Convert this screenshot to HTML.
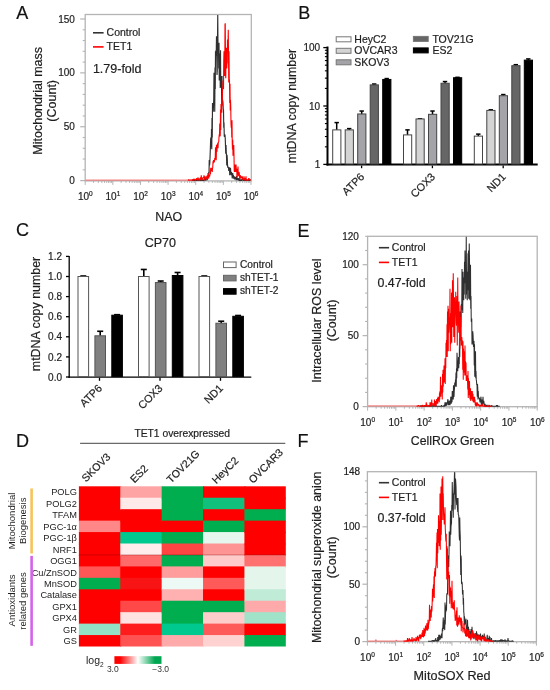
<!DOCTYPE html>
<html><head><meta charset="utf-8"><title>Figure</title><style>
html,body{margin:0;padding:0;background:#fff;width:550px;height:690px;overflow:hidden}
svg{display:block;font-family:"Liberation Sans",sans-serif;filter:blur(0.35px)}
text{stroke:#1e1e1e;stroke-width:0.2px}
text.lt{stroke:none}
</style></head><body>
<svg width="550" height="690" viewBox="0 0 550 690">
<text x="16.30" y="19.30" font-size="18" text-anchor="start" fill="#111" >A</text>
<text x="298.20" y="19.10" font-size="18" text-anchor="start" fill="#111" >B</text>
<text x="15.90" y="236.30" font-size="18" text-anchor="start" fill="#111" >C</text>
<text x="15.90" y="447.10" font-size="18" text-anchor="start" fill="#111" >D</text>
<text x="297.60" y="236.60" font-size="18" text-anchor="start" fill="#111" >E</text>
<text x="297.60" y="446.70" font-size="18" text-anchor="start" fill="#111" >F</text>
<rect x="85.2" y="14.5" width="166.10000000000002" height="166.4" fill="none" stroke="#b4b4b4" stroke-width="1.3"/>
<line x1="80.20" y1="180.60" x2="85.20" y2="180.60" stroke="#b4b4b4" stroke-width="1.2" />
<line x1="82.70" y1="169.83" x2="85.20" y2="169.83" stroke="#b4b4b4" stroke-width="1.1" />
<line x1="82.70" y1="159.05" x2="85.20" y2="159.05" stroke="#b4b4b4" stroke-width="1.1" />
<line x1="82.70" y1="148.28" x2="85.20" y2="148.28" stroke="#b4b4b4" stroke-width="1.1" />
<line x1="82.70" y1="137.51" x2="85.20" y2="137.51" stroke="#b4b4b4" stroke-width="1.1" />
<line x1="80.20" y1="126.73" x2="85.20" y2="126.73" stroke="#b4b4b4" stroke-width="1.2" />
<line x1="82.70" y1="115.96" x2="85.20" y2="115.96" stroke="#b4b4b4" stroke-width="1.1" />
<line x1="82.70" y1="105.19" x2="85.20" y2="105.19" stroke="#b4b4b4" stroke-width="1.1" />
<line x1="82.70" y1="94.42" x2="85.20" y2="94.42" stroke="#b4b4b4" stroke-width="1.1" />
<line x1="82.70" y1="83.64" x2="85.20" y2="83.64" stroke="#b4b4b4" stroke-width="1.1" />
<line x1="80.20" y1="72.87" x2="85.20" y2="72.87" stroke="#b4b4b4" stroke-width="1.2" />
<line x1="82.70" y1="62.10" x2="85.20" y2="62.10" stroke="#b4b4b4" stroke-width="1.1" />
<line x1="82.70" y1="51.32" x2="85.20" y2="51.32" stroke="#b4b4b4" stroke-width="1.1" />
<line x1="82.70" y1="40.55" x2="85.20" y2="40.55" stroke="#b4b4b4" stroke-width="1.1" />
<line x1="82.70" y1="29.78" x2="85.20" y2="29.78" stroke="#b4b4b4" stroke-width="1.1" />
<line x1="80.20" y1="19.00" x2="85.20" y2="19.00" stroke="#b4b4b4" stroke-width="1.2" />
<text x="74.90" y="184.20" font-size="10" text-anchor="end" fill="#1e1e1e" >0</text>
<text x="74.90" y="130.34" font-size="10" text-anchor="end" fill="#1e1e1e" >50</text>
<text x="74.90" y="76.47" font-size="10" text-anchor="end" fill="#1e1e1e" >100</text>
<text x="74.90" y="22.60" font-size="10" text-anchor="end" fill="#1e1e1e" >150</text>
<line x1="85.20" y1="180.90" x2="85.20" y2="184.90" stroke="#b4b4b4" stroke-width="1" />
<line x1="93.52" y1="180.90" x2="93.52" y2="182.90" stroke="#b4b4b4" stroke-width="1" />
<line x1="98.38" y1="180.90" x2="98.38" y2="182.90" stroke="#b4b4b4" stroke-width="1" />
<line x1="101.83" y1="180.90" x2="101.83" y2="182.90" stroke="#b4b4b4" stroke-width="1" />
<line x1="104.51" y1="180.90" x2="104.51" y2="182.90" stroke="#b4b4b4" stroke-width="1" />
<line x1="106.70" y1="180.90" x2="106.70" y2="182.90" stroke="#b4b4b4" stroke-width="1" />
<line x1="108.55" y1="180.90" x2="108.55" y2="182.90" stroke="#b4b4b4" stroke-width="1" />
<line x1="110.15" y1="180.90" x2="110.15" y2="182.90" stroke="#b4b4b4" stroke-width="1" />
<line x1="111.57" y1="180.90" x2="111.57" y2="182.90" stroke="#b4b4b4" stroke-width="1" />
<text x="77.90" y="200.10" font-size="10" fill="#1e1e1e">10<tspan font-size="6.5" dy="-4.2">0</tspan></text>
<line x1="112.83" y1="180.90" x2="112.83" y2="184.90" stroke="#b4b4b4" stroke-width="1" />
<line x1="121.15" y1="180.90" x2="121.15" y2="182.90" stroke="#b4b4b4" stroke-width="1" />
<line x1="126.01" y1="180.90" x2="126.01" y2="182.90" stroke="#b4b4b4" stroke-width="1" />
<line x1="129.46" y1="180.90" x2="129.46" y2="182.90" stroke="#b4b4b4" stroke-width="1" />
<line x1="132.14" y1="180.90" x2="132.14" y2="182.90" stroke="#b4b4b4" stroke-width="1" />
<line x1="134.33" y1="180.90" x2="134.33" y2="182.90" stroke="#b4b4b4" stroke-width="1" />
<line x1="136.18" y1="180.90" x2="136.18" y2="182.90" stroke="#b4b4b4" stroke-width="1" />
<line x1="137.78" y1="180.90" x2="137.78" y2="182.90" stroke="#b4b4b4" stroke-width="1" />
<line x1="139.20" y1="180.90" x2="139.20" y2="182.90" stroke="#b4b4b4" stroke-width="1" />
<text x="105.53" y="200.10" font-size="10" fill="#1e1e1e">10<tspan font-size="6.5" dy="-4.2">1</tspan></text>
<line x1="140.46" y1="180.90" x2="140.46" y2="184.90" stroke="#b4b4b4" stroke-width="1" />
<line x1="148.78" y1="180.90" x2="148.78" y2="182.90" stroke="#b4b4b4" stroke-width="1" />
<line x1="153.64" y1="180.90" x2="153.64" y2="182.90" stroke="#b4b4b4" stroke-width="1" />
<line x1="157.09" y1="180.90" x2="157.09" y2="182.90" stroke="#b4b4b4" stroke-width="1" />
<line x1="159.77" y1="180.90" x2="159.77" y2="182.90" stroke="#b4b4b4" stroke-width="1" />
<line x1="161.96" y1="180.90" x2="161.96" y2="182.90" stroke="#b4b4b4" stroke-width="1" />
<line x1="163.81" y1="180.90" x2="163.81" y2="182.90" stroke="#b4b4b4" stroke-width="1" />
<line x1="165.41" y1="180.90" x2="165.41" y2="182.90" stroke="#b4b4b4" stroke-width="1" />
<line x1="166.83" y1="180.90" x2="166.83" y2="182.90" stroke="#b4b4b4" stroke-width="1" />
<text x="133.16" y="200.10" font-size="10" fill="#1e1e1e">10<tspan font-size="6.5" dy="-4.2">2</tspan></text>
<line x1="168.09" y1="180.90" x2="168.09" y2="184.90" stroke="#b4b4b4" stroke-width="1" />
<line x1="176.41" y1="180.90" x2="176.41" y2="182.90" stroke="#b4b4b4" stroke-width="1" />
<line x1="181.27" y1="180.90" x2="181.27" y2="182.90" stroke="#b4b4b4" stroke-width="1" />
<line x1="184.72" y1="180.90" x2="184.72" y2="182.90" stroke="#b4b4b4" stroke-width="1" />
<line x1="187.40" y1="180.90" x2="187.40" y2="182.90" stroke="#b4b4b4" stroke-width="1" />
<line x1="189.59" y1="180.90" x2="189.59" y2="182.90" stroke="#b4b4b4" stroke-width="1" />
<line x1="191.44" y1="180.90" x2="191.44" y2="182.90" stroke="#b4b4b4" stroke-width="1" />
<line x1="193.04" y1="180.90" x2="193.04" y2="182.90" stroke="#b4b4b4" stroke-width="1" />
<line x1="194.46" y1="180.90" x2="194.46" y2="182.90" stroke="#b4b4b4" stroke-width="1" />
<text x="160.79" y="200.10" font-size="10" fill="#1e1e1e">10<tspan font-size="6.5" dy="-4.2">3</tspan></text>
<line x1="195.72" y1="180.90" x2="195.72" y2="184.90" stroke="#b4b4b4" stroke-width="1" />
<line x1="204.04" y1="180.90" x2="204.04" y2="182.90" stroke="#b4b4b4" stroke-width="1" />
<line x1="208.90" y1="180.90" x2="208.90" y2="182.90" stroke="#b4b4b4" stroke-width="1" />
<line x1="212.35" y1="180.90" x2="212.35" y2="182.90" stroke="#b4b4b4" stroke-width="1" />
<line x1="215.03" y1="180.90" x2="215.03" y2="182.90" stroke="#b4b4b4" stroke-width="1" />
<line x1="217.22" y1="180.90" x2="217.22" y2="182.90" stroke="#b4b4b4" stroke-width="1" />
<line x1="219.07" y1="180.90" x2="219.07" y2="182.90" stroke="#b4b4b4" stroke-width="1" />
<line x1="220.67" y1="180.90" x2="220.67" y2="182.90" stroke="#b4b4b4" stroke-width="1" />
<line x1="222.09" y1="180.90" x2="222.09" y2="182.90" stroke="#b4b4b4" stroke-width="1" />
<text x="188.42" y="200.10" font-size="10" fill="#1e1e1e">10<tspan font-size="6.5" dy="-4.2">4</tspan></text>
<line x1="223.35" y1="180.90" x2="223.35" y2="184.90" stroke="#b4b4b4" stroke-width="1" />
<line x1="231.67" y1="180.90" x2="231.67" y2="182.90" stroke="#b4b4b4" stroke-width="1" />
<line x1="236.53" y1="180.90" x2="236.53" y2="182.90" stroke="#b4b4b4" stroke-width="1" />
<line x1="239.98" y1="180.90" x2="239.98" y2="182.90" stroke="#b4b4b4" stroke-width="1" />
<line x1="242.66" y1="180.90" x2="242.66" y2="182.90" stroke="#b4b4b4" stroke-width="1" />
<line x1="244.85" y1="180.90" x2="244.85" y2="182.90" stroke="#b4b4b4" stroke-width="1" />
<line x1="246.70" y1="180.90" x2="246.70" y2="182.90" stroke="#b4b4b4" stroke-width="1" />
<line x1="248.30" y1="180.90" x2="248.30" y2="182.90" stroke="#b4b4b4" stroke-width="1" />
<line x1="249.72" y1="180.90" x2="249.72" y2="182.90" stroke="#b4b4b4" stroke-width="1" />
<text x="216.05" y="200.10" font-size="10" fill="#1e1e1e">10<tspan font-size="6.5" dy="-4.2">5</tspan></text>
<line x1="250.98" y1="180.90" x2="250.98" y2="184.90" stroke="#b4b4b4" stroke-width="1" />
<text x="243.68" y="200.10" font-size="10" fill="#1e1e1e">10<tspan font-size="6.5" dy="-4.2">6</tspan></text>
<polyline points="192.00,180.30 192.25,180.30 192.50,180.30 192.75,180.30 193.00,179.52 193.25,180.30 193.50,180.30 193.75,180.30 194.00,180.30 194.25,180.30 194.50,180.30 194.75,180.30 195.00,180.30 195.25,180.30 195.50,180.30 195.75,180.30 196.00,180.30 196.25,180.30 196.50,180.30 196.75,180.30 197.00,180.30 197.25,180.30 197.50,180.30 197.75,180.30 198.00,180.30 198.25,180.30 198.50,180.30 198.75,180.30 199.00,180.30 199.25,180.30 199.50,179.52 199.75,180.30 200.00,179.52 200.25,180.30 200.50,180.30 200.75,179.52 201.00,180.30 201.25,180.30 201.50,180.30 201.75,179.52 202.00,180.30 202.25,180.30 202.50,180.30 202.75,180.30 203.00,179.52 203.25,180.30 203.50,180.30 203.75,179.52 204.00,180.30 204.25,180.30 204.50,179.52 204.75,178.45 205.00,178.45 205.25,179.52 205.50,178.45 205.75,180.30 206.00,180.30 206.25,179.52 206.50,178.45 206.75,178.45 207.00,177.37 207.25,178.45 207.50,177.37 207.75,178.45 208.00,176.29 208.25,177.37 208.50,176.29 208.75,171.98 209.00,173.06 209.25,160.13 209.50,165.52 209.75,163.36 210.00,157.98 210.25,151.51 210.50,143.97 210.75,137.51 211.00,145.05 211.25,147.20 211.50,128.89 211.75,149.36 212.00,118.12 212.25,137.51 212.50,103.03 212.75,109.50 213.00,104.11 213.25,111.65 213.50,105.19 213.75,98.73 214.00,72.87 214.25,100.88 214.50,89.03 214.75,111.65 215.00,67.48 215.25,89.03 215.50,51.32 215.75,55.63 216.00,50.25 216.25,52.40 216.50,36.24 216.75,57.79 217.00,75.02 217.25,70.72 217.50,38.40 217.75,15.00 218.00,49.17 218.25,42.71 218.50,49.17 218.75,68.56 219.00,42.71 219.25,80.41 219.50,67.48 219.75,73.95 220.00,53.48 220.25,87.95 220.50,50.25 220.75,86.87 221.00,76.10 221.25,81.49 221.50,83.64 221.75,105.19 222.00,76.10 222.25,97.65 222.50,99.80 222.75,100.88 223.00,103.03 223.25,109.50 223.50,109.50 223.75,127.81 224.00,122.43 224.25,136.43 224.50,136.43 224.75,134.28 225.00,135.35 225.25,138.59 225.50,146.13 225.75,153.67 226.00,145.05 226.25,151.51 226.50,155.82 226.75,165.52 227.00,154.74 227.25,157.98 227.50,164.44 227.75,167.67 228.00,166.60 228.25,167.67 228.50,167.67 228.75,170.90 229.00,167.67 229.25,167.67 229.50,168.75 229.75,175.21 230.00,174.14 230.25,173.06 230.50,167.67 230.75,171.98 231.00,173.06 231.25,175.21 231.50,171.98 231.75,174.14 232.00,175.21 232.25,178.45 232.50,175.21 232.75,173.06 233.00,177.37 233.25,175.21 233.50,176.29 233.75,178.45 234.00,178.45 234.25,176.29 234.50,179.52 234.75,177.37 235.00,177.37 235.25,177.37 235.50,177.37 235.75,178.45 236.00,179.52 236.25,180.30 236.50,176.29 236.75,176.29 237.00,179.52 237.25,179.52 237.50,178.45 237.75,178.45 238.00,180.30 238.25,179.52 238.50,178.45 238.75,178.45 239.00,180.30 239.25,180.30 239.50,178.45 239.75,180.30 240.00,180.30 240.25,180.30 240.50,179.52 240.75,180.30 241.00,180.30 241.25,180.30 241.50,179.52 241.75,180.30 242.00,180.30 242.25,178.45 242.50,179.52 242.75,179.52 243.00,179.52 243.25,180.30 243.50,180.30 243.75,180.30 244.00,180.30 244.25,180.30 244.50,180.30 244.75,180.30 245.00,180.30 245.25,180.30 245.50,180.30 245.75,180.30 246.00,180.30 246.25,180.30 246.50,180.30 246.75,180.30 247.00,180.30 247.25,180.30 247.50,180.30 247.75,180.30 248.00,180.30 248.25,180.30 248.50,179.52 248.75,180.30 249.00,180.30 249.25,180.30 249.50,180.30 249.75,180.30 250.00,179.52 250.25,180.30 250.50,180.30" fill="none" stroke="#303030" stroke-width="1.15" stroke-linejoin="bevel"/>
<line x1="85.70" y1="180.10" x2="188.50" y2="180.10" stroke="#f26a6a" stroke-width="1.0" />
<polyline points="188.00,180.30 188.25,180.30 188.50,179.52 188.75,180.30 189.00,179.52 189.25,180.30 189.50,180.30 189.75,180.30 190.00,180.30 190.25,180.30 190.50,180.30 190.75,180.30 191.00,179.52 191.25,180.30 191.50,180.30 191.75,180.30 192.00,180.30 192.25,180.30 192.50,179.52 192.75,180.30 193.00,180.30 193.25,180.30 193.50,179.52 193.75,180.30 194.00,178.45 194.25,180.30 194.50,179.52 194.75,179.52 195.00,179.52 195.25,180.30 195.50,180.30 195.75,180.30 196.00,179.52 196.25,179.52 196.50,178.45 196.75,178.45 197.00,179.52 197.25,179.52 197.50,180.30 197.75,180.30 198.00,177.37 198.25,179.52 198.50,179.52 198.75,180.30 199.00,178.45 199.25,179.52 199.50,179.52 199.75,180.30 200.00,178.45 200.25,179.52 200.50,177.37 200.75,178.45 201.00,179.52 201.25,175.21 201.50,179.52 201.75,180.30 202.00,179.52 202.25,178.45 202.50,179.52 202.75,177.37 203.00,178.45 203.25,177.37 203.50,178.45 203.75,177.37 204.00,175.21 204.25,178.45 204.50,176.29 204.75,180.30 205.00,179.52 205.25,177.37 205.50,178.45 205.75,178.45 206.00,176.29 206.25,178.45 206.50,177.37 206.75,177.37 207.00,179.52 207.25,175.21 207.50,180.30 207.75,177.37 208.00,173.06 208.25,175.21 208.50,174.14 208.75,178.45 209.00,175.21 209.25,176.29 209.50,176.29 209.75,176.29 210.00,171.98 210.25,169.83 210.50,174.14 210.75,167.67 211.00,170.90 211.25,168.75 211.50,169.83 211.75,170.90 212.00,167.67 212.25,171.98 212.50,167.67 212.75,167.67 213.00,161.21 213.25,163.36 213.50,160.13 213.75,162.29 214.00,160.13 214.25,162.29 214.50,161.21 214.75,157.98 215.00,159.05 215.25,157.98 215.50,147.20 215.75,159.05 216.00,160.13 216.25,159.05 216.50,145.05 216.75,151.51 217.00,151.51 217.25,143.97 217.50,148.28 217.75,142.89 218.00,148.28 218.25,142.89 218.50,141.82 218.75,141.82 219.00,137.51 219.25,134.28 219.50,135.35 219.75,123.50 220.00,136.43 220.25,135.35 220.50,109.50 220.75,129.97 221.00,104.11 221.25,107.34 221.50,111.65 221.75,112.73 222.00,100.88 222.25,106.27 222.50,91.18 222.75,87.95 223.00,80.41 223.25,85.80 223.50,89.03 223.75,61.02 224.00,51.32 224.25,73.95 224.50,68.56 224.75,76.10 225.00,24.39 225.25,23.31 225.50,62.10 225.75,78.26 226.00,48.09 226.25,48.09 226.50,49.17 226.75,68.56 227.00,63.17 227.25,63.17 227.50,39.47 227.75,51.32 228.00,50.25 228.25,29.78 228.50,52.40 228.75,82.57 229.00,51.32 229.25,78.26 229.50,81.49 229.75,103.03 230.00,83.64 230.25,110.58 230.50,99.80 230.75,107.34 231.00,123.50 231.25,127.81 231.50,120.27 231.75,137.51 232.00,120.27 232.25,142.89 232.50,149.36 232.75,139.66 233.00,155.82 233.25,149.36 233.50,152.59 233.75,145.05 234.00,155.82 234.25,170.90 234.50,171.98 234.75,170.90 235.00,167.67 235.25,164.44 235.50,166.60 235.75,171.98 236.00,164.44 236.25,168.75 236.50,170.90 236.75,168.75 237.00,177.37 237.25,176.29 237.50,168.75 237.75,175.21 238.00,166.60 238.25,175.21 238.50,174.14 238.75,176.29 239.00,171.98 239.25,173.06 239.50,176.29 239.75,179.52 240.00,176.29 240.25,175.21 240.50,176.29 240.75,176.29 241.00,178.45 241.25,177.37 241.50,176.29 241.75,177.37 242.00,177.37 242.25,176.29 242.50,177.37 242.75,179.52 243.00,179.52 243.25,179.52 243.50,178.45 243.75,179.52 244.00,176.29 244.25,178.45 244.50,179.52 244.75,180.30 245.00,178.45 245.25,178.45 245.50,180.30 245.75,179.52 246.00,176.29 246.25,180.30 246.50,180.30 246.75,179.52 247.00,179.52 247.25,180.30 247.50,180.30 247.75,180.30 248.00,180.30 248.25,180.30 248.50,178.45 248.75,178.45 249.00,178.45 249.25,180.30 249.50,178.45 249.75,180.30 250.00,179.52 250.25,180.30 250.50,180.30" fill="none" stroke="#ff0000" stroke-width="1.1" stroke-linejoin="bevel"/>
<line x1="93.00" y1="32.80" x2="103.60" y2="32.80" stroke="#333" stroke-width="1.6" />
<text x="106.60" y="35.80" font-size="10.5" text-anchor="start" fill="#1e1e1e" >Control</text>
<line x1="93.00" y1="46.90" x2="103.60" y2="46.90" stroke="#ff0000" stroke-width="1.6" />
<text x="106.60" y="49.90" font-size="10.5" text-anchor="start" fill="#1e1e1e" >TET1</text>
<text x="92.90" y="72.50" font-size="12.5" text-anchor="start" fill="#1e1e1e" >1.79-fold</text>
<text x="168.70" y="221.20" font-size="12.4" text-anchor="middle" fill="#1e1e1e" >NAO</text>
<text transform="translate(42.30,100.80) rotate(-90)" font-size="12.5" text-anchor="middle" fill="#1e1e1e" >Mitochondrial mass</text>
<text transform="translate(56.20,100.80) rotate(-90)" font-size="12.5" text-anchor="middle" fill="#1e1e1e" >(Count)</text>
<line x1="327.50" y1="46.50" x2="327.50" y2="165.60" stroke="#000" stroke-width="2" />
<line x1="326.50" y1="164.60" x2="537.70" y2="164.60" stroke="#000" stroke-width="2" />
<line x1="323.30" y1="164.40" x2="327.50" y2="164.40" stroke="#000" stroke-width="1.3" />
<line x1="324.90" y1="146.82" x2="327.50" y2="146.82" stroke="#000" stroke-width="1.1" />
<line x1="324.90" y1="136.54" x2="327.50" y2="136.54" stroke="#000" stroke-width="1.1" />
<line x1="324.90" y1="129.24" x2="327.50" y2="129.24" stroke="#000" stroke-width="1.1" />
<line x1="324.90" y1="123.58" x2="327.50" y2="123.58" stroke="#000" stroke-width="1.1" />
<line x1="324.90" y1="118.96" x2="327.50" y2="118.96" stroke="#000" stroke-width="1.1" />
<line x1="324.90" y1="115.05" x2="327.50" y2="115.05" stroke="#000" stroke-width="1.1" />
<line x1="324.90" y1="111.66" x2="327.50" y2="111.66" stroke="#000" stroke-width="1.1" />
<line x1="324.90" y1="108.67" x2="327.50" y2="108.67" stroke="#000" stroke-width="1.1" />
<line x1="323.30" y1="106.00" x2="327.50" y2="106.00" stroke="#000" stroke-width="1.3" />
<line x1="324.90" y1="88.42" x2="327.50" y2="88.42" stroke="#000" stroke-width="1.1" />
<line x1="324.90" y1="78.14" x2="327.50" y2="78.14" stroke="#000" stroke-width="1.1" />
<line x1="324.90" y1="70.84" x2="327.50" y2="70.84" stroke="#000" stroke-width="1.1" />
<line x1="324.90" y1="65.18" x2="327.50" y2="65.18" stroke="#000" stroke-width="1.1" />
<line x1="324.90" y1="60.56" x2="327.50" y2="60.56" stroke="#000" stroke-width="1.1" />
<line x1="324.90" y1="56.65" x2="327.50" y2="56.65" stroke="#000" stroke-width="1.1" />
<line x1="324.90" y1="53.26" x2="327.50" y2="53.26" stroke="#000" stroke-width="1.1" />
<line x1="324.90" y1="50.27" x2="327.50" y2="50.27" stroke="#000" stroke-width="1.1" />
<line x1="323.30" y1="47.60" x2="327.50" y2="47.60" stroke="#000" stroke-width="1.3" />
<text x="320.20" y="51.20" font-size="10" text-anchor="end" fill="#1e1e1e" >100</text>
<text x="320.20" y="109.60" font-size="10" text-anchor="end" fill="#1e1e1e" >10</text>
<text x="320.20" y="168.00" font-size="10" text-anchor="end" fill="#1e1e1e" >1</text>
<line x1="336.70" y1="129.88" x2="336.70" y2="122.59" stroke="#000" stroke-width="1.5" />
<line x1="334.50" y1="122.59" x2="338.90" y2="122.59" stroke="#000" stroke-width="1.5" />
<rect x="332.70" y="129.88" width="8.20" height="34.12" fill="#ffffff" stroke="#444" stroke-width="1"/>
<line x1="349.20" y1="129.88" x2="349.20" y2="128.61" stroke="#000" stroke-width="1.5" />
<line x1="347.00" y1="128.61" x2="351.40" y2="128.61" stroke="#000" stroke-width="1.5" />
<rect x="345.20" y="129.88" width="8.20" height="34.12" fill="#d4d4d4" stroke="#444" stroke-width="1"/>
<line x1="361.70" y1="113.98" x2="361.70" y2="111.03" stroke="#000" stroke-width="1.5" />
<line x1="359.50" y1="111.03" x2="363.90" y2="111.03" stroke="#000" stroke-width="1.5" />
<rect x="357.70" y="113.98" width="8.20" height="50.02" fill="#a3a3a8" stroke="#444" stroke-width="1"/>
<line x1="374.20" y1="84.88" x2="374.20" y2="84.01" stroke="#000" stroke-width="1.5" />
<line x1="372.00" y1="84.01" x2="376.40" y2="84.01" stroke="#000" stroke-width="1.5" />
<rect x="370.20" y="84.88" width="8.20" height="79.12" fill="#666666" stroke="#444" stroke-width="1"/>
<line x1="386.70" y1="79.44" x2="386.70" y2="78.56" stroke="#000" stroke-width="1.5" />
<line x1="384.50" y1="78.56" x2="388.90" y2="78.56" stroke="#000" stroke-width="1.5" />
<rect x="382.70" y="79.44" width="8.20" height="84.56" fill="#000000" stroke="#000" stroke-width="1"/>
<line x1="361.60" y1="165.60" x2="361.60" y2="168.20" stroke="#000" stroke-width="1.3" />
<line x1="407.50" y1="134.90" x2="407.50" y2="129.88" stroke="#000" stroke-width="1.5" />
<line x1="405.30" y1="129.88" x2="409.70" y2="129.88" stroke="#000" stroke-width="1.5" />
<rect x="403.50" y="134.90" width="8.20" height="29.10" fill="#ffffff" stroke="#444" stroke-width="1"/>
<line x1="420.00" y1="118.96" x2="420.00" y2="118.75" stroke="#000" stroke-width="1.5" />
<line x1="417.80" y1="118.75" x2="422.20" y2="118.75" stroke="#000" stroke-width="1.5" />
<rect x="416.00" y="118.96" width="8.20" height="45.04" fill="#d4d4d4" stroke="#444" stroke-width="1"/>
<line x1="432.50" y1="114.33" x2="432.50" y2="111.03" stroke="#000" stroke-width="1.5" />
<line x1="430.30" y1="111.03" x2="434.70" y2="111.03" stroke="#000" stroke-width="1.5" />
<rect x="428.50" y="114.33" width="8.20" height="49.67" fill="#a3a3a8" stroke="#444" stroke-width="1"/>
<line x1="445.00" y1="83.27" x2="445.00" y2="81.57" stroke="#000" stroke-width="1.5" />
<line x1="442.80" y1="81.57" x2="447.20" y2="81.57" stroke="#000" stroke-width="1.5" />
<rect x="441.00" y="83.27" width="8.20" height="80.73" fill="#666666" stroke="#444" stroke-width="1"/>
<line x1="457.50" y1="77.72" x2="457.50" y2="77.30" stroke="#000" stroke-width="1.5" />
<line x1="455.30" y1="77.30" x2="459.70" y2="77.30" stroke="#000" stroke-width="1.5" />
<rect x="453.50" y="77.72" width="8.20" height="86.28" fill="#000000" stroke="#000" stroke-width="1"/>
<line x1="432.40" y1="165.60" x2="432.40" y2="168.20" stroke="#000" stroke-width="1.3" />
<line x1="478.30" y1="136.12" x2="478.30" y2="134.12" stroke="#000" stroke-width="1.5" />
<line x1="476.10" y1="134.12" x2="480.50" y2="134.12" stroke="#000" stroke-width="1.5" />
<rect x="474.30" y="136.12" width="8.20" height="27.88" fill="#ffffff" stroke="#444" stroke-width="1"/>
<line x1="490.80" y1="110.42" x2="490.80" y2="109.83" stroke="#000" stroke-width="1.5" />
<line x1="488.60" y1="109.83" x2="493.00" y2="109.83" stroke="#000" stroke-width="1.5" />
<rect x="486.80" y="110.42" width="8.20" height="53.58" fill="#d4d4d4" stroke="#444" stroke-width="1"/>
<line x1="503.30" y1="95.72" x2="503.30" y2="94.56" stroke="#000" stroke-width="1.5" />
<line x1="501.10" y1="94.56" x2="505.50" y2="94.56" stroke="#000" stroke-width="1.5" />
<rect x="499.30" y="95.72" width="8.20" height="68.28" fill="#a3a3a8" stroke="#444" stroke-width="1"/>
<line x1="515.80" y1="65.69" x2="515.80" y2="64.68" stroke="#000" stroke-width="1.5" />
<line x1="513.60" y1="64.68" x2="518.00" y2="64.68" stroke="#000" stroke-width="1.5" />
<rect x="511.80" y="65.69" width="8.20" height="98.31" fill="#666666" stroke="#444" stroke-width="1"/>
<line x1="528.30" y1="60.14" x2="528.30" y2="58.92" stroke="#000" stroke-width="1.5" />
<line x1="526.10" y1="58.92" x2="530.50" y2="58.92" stroke="#000" stroke-width="1.5" />
<rect x="524.30" y="60.14" width="8.20" height="103.86" fill="#000000" stroke="#000" stroke-width="1"/>
<line x1="503.20" y1="165.60" x2="503.20" y2="168.20" stroke="#000" stroke-width="1.3" />
<text transform="translate(365.00,177.40) rotate(-45)" font-size="10.8" text-anchor="end" fill="#1e1e1e" >ATP6</text>
<text transform="translate(435.80,177.40) rotate(-45)" font-size="10.8" text-anchor="end" fill="#1e1e1e" >COX3</text>
<text transform="translate(506.60,177.40) rotate(-45)" font-size="10.8" text-anchor="end" fill="#1e1e1e" >ND1</text>
<rect x="336.20" y="36.80" width="14.80" height="5.00" fill="#ffffff" stroke="#777" stroke-width="1"/>
<text x="354.30" y="42.90" font-size="10.5" text-anchor="start" fill="#1e1e1e" >HeyC2</text>
<rect x="336.20" y="48.30" width="14.80" height="5.00" fill="#d4d4d4" stroke="#777" stroke-width="1"/>
<text x="354.30" y="54.40" font-size="10.5" text-anchor="start" fill="#1e1e1e" >OVCAR3</text>
<rect x="336.20" y="59.80" width="14.80" height="5.00" fill="#a3a3a8" stroke="#777" stroke-width="1"/>
<text x="354.30" y="65.90" font-size="10.5" text-anchor="start" fill="#1e1e1e" >SKOV3</text>
<rect x="413.40" y="36.40" width="14.80" height="5.00" fill="#666666" stroke="#777" stroke-width="1"/>
<text x="432.40" y="42.50" font-size="10.5" text-anchor="start" fill="#1e1e1e" >TOV21G</text>
<rect x="413.40" y="47.90" width="14.80" height="5.00" fill="#000000" stroke="#000" stroke-width="1"/>
<text x="432.40" y="54.00" font-size="10.5" text-anchor="start" fill="#1e1e1e" >ES2</text>
<text transform="translate(295.80,106.00) rotate(-90)" font-size="12.4" text-anchor="middle" fill="#1e1e1e" >mtDNA copy number</text>
<line x1="69.20" y1="256.00" x2="69.20" y2="377.80" stroke="#000" stroke-width="1.3" />
<line x1="68.50" y1="377.20" x2="251.30" y2="377.20" stroke="#000" stroke-width="1.3" />
<line x1="66.00" y1="377.00" x2="69.20" y2="377.00" stroke="#000" stroke-width="1.3" />
<text x="62.00" y="380.60" font-size="10" text-anchor="end" fill="#1e1e1e" >0.0</text>
<line x1="66.00" y1="356.90" x2="69.20" y2="356.90" stroke="#000" stroke-width="1.3" />
<text x="62.00" y="360.50" font-size="10" text-anchor="end" fill="#1e1e1e" >0.2</text>
<line x1="66.00" y1="336.80" x2="69.20" y2="336.80" stroke="#000" stroke-width="1.3" />
<text x="62.00" y="340.40" font-size="10" text-anchor="end" fill="#1e1e1e" >0.4</text>
<line x1="66.00" y1="316.70" x2="69.20" y2="316.70" stroke="#000" stroke-width="1.3" />
<text x="62.00" y="320.30" font-size="10" text-anchor="end" fill="#1e1e1e" >0.6</text>
<line x1="66.00" y1="296.60" x2="69.20" y2="296.60" stroke="#000" stroke-width="1.3" />
<text x="62.00" y="300.20" font-size="10" text-anchor="end" fill="#1e1e1e" >0.8</text>
<line x1="66.00" y1="276.50" x2="69.20" y2="276.50" stroke="#000" stroke-width="1.3" />
<text x="62.00" y="280.10" font-size="10" text-anchor="end" fill="#1e1e1e" >1.0</text>
<line x1="66.00" y1="256.40" x2="69.20" y2="256.40" stroke="#000" stroke-width="1.3" />
<text x="62.00" y="260.00" font-size="10" text-anchor="end" fill="#1e1e1e" >1.2</text>
<line x1="83.30" y1="276.50" x2="83.30" y2="276.00" stroke="#000" stroke-width="1.6" />
<line x1="80.30" y1="276.00" x2="86.30" y2="276.00" stroke="#000" stroke-width="1.6" />
<rect x="78.00" y="276.50" width="10.60" height="100.10" fill="#ffffff" stroke="#555" stroke-width="1"/>
<line x1="100.20" y1="335.80" x2="100.20" y2="331.27" stroke="#000" stroke-width="1.6" />
<line x1="97.20" y1="331.27" x2="103.20" y2="331.27" stroke="#000" stroke-width="1.6" />
<rect x="94.90" y="335.80" width="10.60" height="40.81" fill="#808080" stroke="#555" stroke-width="1"/>
<line x1="117.10" y1="315.19" x2="117.10" y2="314.69" stroke="#000" stroke-width="1.6" />
<line x1="114.10" y1="314.69" x2="120.10" y2="314.69" stroke="#000" stroke-width="1.6" />
<rect x="111.80" y="315.19" width="10.60" height="61.41" fill="#000000" stroke="#000" stroke-width="1"/>
<line x1="99.50" y1="377.80" x2="99.50" y2="380.80" stroke="#000" stroke-width="1.3" />
<line x1="143.80" y1="276.50" x2="143.80" y2="269.46" stroke="#000" stroke-width="1.6" />
<line x1="140.80" y1="269.46" x2="146.80" y2="269.46" stroke="#000" stroke-width="1.6" />
<rect x="138.50" y="276.50" width="10.60" height="100.10" fill="#ffffff" stroke="#555" stroke-width="1"/>
<line x1="160.70" y1="282.53" x2="160.70" y2="281.02" stroke="#000" stroke-width="1.6" />
<line x1="157.70" y1="281.02" x2="163.70" y2="281.02" stroke="#000" stroke-width="1.6" />
<rect x="155.40" y="282.53" width="10.60" height="94.07" fill="#808080" stroke="#555" stroke-width="1"/>
<line x1="177.60" y1="275.50" x2="177.60" y2="272.48" stroke="#000" stroke-width="1.6" />
<line x1="174.60" y1="272.48" x2="180.60" y2="272.48" stroke="#000" stroke-width="1.6" />
<rect x="172.30" y="275.50" width="10.60" height="101.11" fill="#000000" stroke="#000" stroke-width="1"/>
<line x1="160.00" y1="377.80" x2="160.00" y2="380.80" stroke="#000" stroke-width="1.3" />
<line x1="204.30" y1="276.50" x2="204.30" y2="276.00" stroke="#000" stroke-width="1.6" />
<line x1="201.30" y1="276.00" x2="207.30" y2="276.00" stroke="#000" stroke-width="1.6" />
<rect x="199.00" y="276.50" width="10.60" height="100.10" fill="#ffffff" stroke="#555" stroke-width="1"/>
<line x1="221.20" y1="323.23" x2="221.20" y2="321.22" stroke="#000" stroke-width="1.6" />
<line x1="218.20" y1="321.22" x2="224.20" y2="321.22" stroke="#000" stroke-width="1.6" />
<rect x="215.90" y="323.23" width="10.60" height="53.37" fill="#808080" stroke="#555" stroke-width="1"/>
<line x1="238.10" y1="316.30" x2="238.10" y2="315.49" stroke="#000" stroke-width="1.6" />
<line x1="235.10" y1="315.49" x2="241.10" y2="315.49" stroke="#000" stroke-width="1.6" />
<rect x="232.80" y="316.30" width="10.60" height="60.30" fill="#000000" stroke="#000" stroke-width="1"/>
<line x1="220.50" y1="377.80" x2="220.50" y2="380.80" stroke="#000" stroke-width="1.3" />
<text transform="translate(102.70,389.00) rotate(-45)" font-size="10.8" text-anchor="end" fill="#1e1e1e" >ATP6</text>
<text transform="translate(163.20,389.00) rotate(-45)" font-size="10.8" text-anchor="end" fill="#1e1e1e" >COX3</text>
<text transform="translate(223.70,389.00) rotate(-45)" font-size="10.8" text-anchor="end" fill="#1e1e1e" >ND1</text>
<text x="160.40" y="247.00" font-size="12.5" text-anchor="middle" fill="#1e1e1e" >CP70</text>
<rect x="223.50" y="262.00" width="12.60" height="5.60" fill="#ffffff" stroke="#666" stroke-width="1"/>
<text x="240.00" y="267.50" font-size="10.2" text-anchor="start" fill="#1e1e1e" >Control</text>
<rect x="223.50" y="275.30" width="12.60" height="5.60" fill="#808080" stroke="#666" stroke-width="1"/>
<text x="240.00" y="280.80" font-size="10.2" text-anchor="start" fill="#1e1e1e" >shTET-1</text>
<rect x="223.50" y="288.60" width="12.60" height="5.60" fill="#000000" stroke="#000" stroke-width="1"/>
<text x="240.00" y="294.10" font-size="10.2" text-anchor="start" fill="#1e1e1e" >shTET-2</text>
<text transform="translate(39.60,314.00) rotate(-90)" font-size="12.4" text-anchor="middle" fill="#1e1e1e" >mtDNA copy number</text>
<rect x="78.90" y="486.30" width="42.38" height="12.44" fill="#ff0000"/>
<rect x="78.90" y="497.74" width="42.38" height="12.44" fill="#ff0000"/>
<rect x="78.90" y="509.19" width="42.38" height="12.44" fill="#ff0000"/>
<rect x="78.90" y="520.63" width="42.38" height="12.44" fill="#ff8787"/>
<rect x="78.90" y="532.07" width="42.38" height="12.44" fill="#ff0000"/>
<rect x="78.90" y="543.51" width="42.38" height="12.44" fill="#ff0000"/>
<rect x="78.90" y="554.96" width="42.38" height="12.44" fill="#ff0000"/>
<rect x="78.90" y="566.40" width="42.38" height="12.44" fill="#ff5656"/>
<rect x="78.90" y="577.84" width="42.38" height="12.44" fill="#00ae50"/>
<rect x="78.90" y="589.29" width="42.38" height="12.44" fill="#ff0000"/>
<rect x="78.90" y="600.73" width="42.38" height="12.44" fill="#ff0000"/>
<rect x="78.90" y="612.17" width="42.38" height="12.44" fill="#ff0000"/>
<rect x="78.90" y="623.62" width="42.38" height="12.44" fill="#93e2c6"/>
<rect x="78.90" y="635.06" width="42.38" height="11.44" fill="#ff0000"/>
<rect x="120.28" y="486.30" width="42.38" height="12.44" fill="#ffa4a4"/>
<rect x="120.28" y="497.74" width="42.38" height="12.44" fill="#ffeaea"/>
<rect x="120.28" y="509.19" width="42.38" height="12.44" fill="#ff0000"/>
<rect x="120.28" y="520.63" width="42.38" height="12.44" fill="#ff0000"/>
<rect x="120.28" y="532.07" width="42.38" height="12.44" fill="#00c98f"/>
<rect x="120.28" y="543.51" width="42.38" height="12.44" fill="#ffecec"/>
<rect x="120.28" y="554.96" width="42.38" height="12.44" fill="#ff6a6a"/>
<rect x="120.28" y="566.40" width="42.38" height="12.44" fill="#ff0000"/>
<rect x="120.28" y="577.84" width="42.38" height="12.44" fill="#f81414"/>
<rect x="120.28" y="589.29" width="42.38" height="12.44" fill="#ff0000"/>
<rect x="120.28" y="600.73" width="42.38" height="12.44" fill="#ff4848"/>
<rect x="120.28" y="612.17" width="42.38" height="12.44" fill="#ffe2e2"/>
<rect x="120.28" y="623.62" width="42.38" height="12.44" fill="#ff1c1c"/>
<rect x="120.28" y="635.06" width="42.38" height="11.44" fill="#ff5252"/>
<rect x="161.66" y="486.30" width="42.38" height="12.44" fill="#00ae50"/>
<rect x="161.66" y="497.74" width="42.38" height="12.44" fill="#00ae50"/>
<rect x="161.66" y="509.19" width="42.38" height="12.44" fill="#00ae50"/>
<rect x="161.66" y="520.63" width="42.38" height="12.44" fill="#ff0000"/>
<rect x="161.66" y="532.07" width="42.38" height="12.44" fill="#00ae50"/>
<rect x="161.66" y="543.51" width="42.38" height="12.44" fill="#ff4444"/>
<rect x="161.66" y="554.96" width="42.38" height="12.44" fill="#00ae50"/>
<rect x="161.66" y="566.40" width="42.38" height="12.44" fill="#ff9c9c"/>
<rect x="161.66" y="577.84" width="42.38" height="12.44" fill="#edf9f4"/>
<rect x="161.66" y="589.29" width="42.38" height="12.44" fill="#ffb0b0"/>
<rect x="161.66" y="600.73" width="42.38" height="12.44" fill="#00ae50"/>
<rect x="161.66" y="612.17" width="42.38" height="12.44" fill="#00ae50"/>
<rect x="161.66" y="623.62" width="42.38" height="12.44" fill="#00c98f"/>
<rect x="161.66" y="635.06" width="42.38" height="11.44" fill="#ffaaaa"/>
<rect x="203.04" y="486.30" width="42.38" height="12.44" fill="#ff0000"/>
<rect x="203.04" y="497.74" width="42.38" height="12.44" fill="#12c07e"/>
<rect x="203.04" y="509.19" width="42.38" height="12.44" fill="#ff0000"/>
<rect x="203.04" y="520.63" width="42.38" height="12.44" fill="#00ae50"/>
<rect x="203.04" y="532.07" width="42.38" height="12.44" fill="#e6f7ef"/>
<rect x="203.04" y="543.51" width="42.38" height="12.44" fill="#ff9494"/>
<rect x="203.04" y="554.96" width="42.38" height="12.44" fill="#ffcaca"/>
<rect x="203.04" y="566.40" width="42.38" height="12.44" fill="#ff0000"/>
<rect x="203.04" y="577.84" width="42.38" height="12.44" fill="#ff5a5a"/>
<rect x="203.04" y="589.29" width="42.38" height="12.44" fill="#ff0000"/>
<rect x="203.04" y="600.73" width="42.38" height="12.44" fill="#00ae50"/>
<rect x="203.04" y="612.17" width="42.38" height="12.44" fill="#ffcccc"/>
<rect x="203.04" y="623.62" width="42.38" height="12.44" fill="#ff5a5a"/>
<rect x="203.04" y="635.06" width="42.38" height="11.44" fill="#ffd2d2"/>
<rect x="244.42" y="486.30" width="41.38" height="12.44" fill="#ff0000"/>
<rect x="244.42" y="497.74" width="41.38" height="12.44" fill="#ff0000"/>
<rect x="244.42" y="509.19" width="41.38" height="12.44" fill="#00ae50"/>
<rect x="244.42" y="520.63" width="41.38" height="12.44" fill="#ff0000"/>
<rect x="244.42" y="532.07" width="41.38" height="12.44" fill="#ff0000"/>
<rect x="244.42" y="543.51" width="41.38" height="12.44" fill="#ff0000"/>
<rect x="244.42" y="554.96" width="41.38" height="12.44" fill="#ff7070"/>
<rect x="244.42" y="566.40" width="41.38" height="12.44" fill="#e4f5ec"/>
<rect x="244.42" y="577.84" width="41.38" height="12.44" fill="#e4f5ec"/>
<rect x="244.42" y="589.29" width="41.38" height="12.44" fill="#bfebd7"/>
<rect x="244.42" y="600.73" width="41.38" height="12.44" fill="#ffaaaa"/>
<rect x="244.42" y="612.17" width="41.38" height="12.44" fill="#a0e3c8"/>
<rect x="244.42" y="623.62" width="41.38" height="12.44" fill="#ff0000"/>
<rect x="244.42" y="635.06" width="41.38" height="11.44" fill="#00ae50"/>
<line x1="78.90" y1="554.96" x2="285.80" y2="554.96" stroke="rgba(120,0,0,0.35)" stroke-width="1" />
<text x="76.90" y="495.42" font-size="9.25" text-anchor="end" fill="#222" class="lt">POLG</text>
<text x="76.90" y="506.86" font-size="9.25" text-anchor="end" fill="#222" class="lt">POLG2</text>
<text x="76.90" y="518.31" font-size="9.25" text-anchor="end" fill="#222" class="lt">TFAM</text>
<text x="76.90" y="529.75" font-size="9.25" text-anchor="end" fill="#222" class="lt">PGC-1α</text>
<text x="76.90" y="541.19" font-size="9.25" text-anchor="end" fill="#222" class="lt">PGC-1β</text>
<text x="76.90" y="552.64" font-size="9.25" text-anchor="end" fill="#222" class="lt">NRF1</text>
<text x="76.90" y="564.08" font-size="9.25" text-anchor="end" fill="#222" class="lt">OGG1</text>
<text x="76.90" y="575.52" font-size="9.25" text-anchor="end" fill="#222" class="lt">Cu/ZnSOD</text>
<text x="76.90" y="586.97" font-size="9.25" text-anchor="end" fill="#222" class="lt">MnSOD</text>
<text x="76.90" y="598.41" font-size="9.25" text-anchor="end" fill="#222" class="lt">Catalase</text>
<text x="76.90" y="609.85" font-size="9.25" text-anchor="end" fill="#222" class="lt">GPX1</text>
<text x="76.90" y="621.29" font-size="9.25" text-anchor="end" fill="#222" class="lt">GPX4</text>
<text x="76.90" y="632.74" font-size="9.25" text-anchor="end" fill="#222" class="lt">GR</text>
<text x="76.90" y="644.18" font-size="9.25" text-anchor="end" fill="#222" class="lt">GS</text>
<rect x="30.30" y="488.50" width="2.60" height="65.00" fill="#f7c45a" stroke="none" stroke-width="1"/>
<rect x="30.30" y="555.90" width="2.60" height="89.90" fill="#d463e8" stroke="none" stroke-width="1"/>
<text transform="translate(14.50,520.90) rotate(-90)" font-size="9.5" text-anchor="middle" fill="#1e1e1e" class="lt">Mitochondrial</text>
<text transform="translate(25.60,520.80) rotate(-90)" font-size="9.5" text-anchor="middle" fill="#1e1e1e" class="lt">Biogenesis</text>
<text transform="translate(14.50,600.50) rotate(-90)" font-size="9.5" text-anchor="middle" fill="#1e1e1e" class="lt">Antioxidants</text>
<text transform="translate(26.30,601.00) rotate(-90)" font-size="9.5" text-anchor="middle" fill="#1e1e1e" class="lt">related genes</text>
<text x="182.20" y="436.70" font-size="10.3" text-anchor="middle" fill="#1e1e1e" >TET1 overexpressed</text>
<line x1="80.10" y1="443.30" x2="285.30" y2="443.30" stroke="#444" stroke-width="1" />
<text transform="translate(86.10,482.50) rotate(-45)" font-size="10.6" text-anchor="start" fill="#1e1e1e" >SKOV3</text>
<text transform="translate(134.40,483.60) rotate(-45)" font-size="10.6" text-anchor="start" fill="#1e1e1e" >ES2</text>
<text transform="translate(171.00,483.80) rotate(-45)" font-size="10.6" text-anchor="start" fill="#1e1e1e" >TOV21G</text>
<text transform="translate(216.20,484.30) rotate(-45)" font-size="10.6" text-anchor="start" fill="#1e1e1e" >HeyC2</text>
<text transform="translate(252.90,484.00) rotate(-45)" font-size="10.6" text-anchor="start" fill="#1e1e1e" >OVCAR3</text>
<defs><linearGradient id="cb" x1="0" x2="1" y1="0" y2="0"><stop offset="0" stop-color="#ff0000"/><stop offset="0.12" stop-color="#ff0000"/><stop offset="0.5" stop-color="#ffffff"/><stop offset="0.86" stop-color="#00a651"/><stop offset="1" stop-color="#00a651"/></linearGradient></defs>
<rect x="114.40" y="656.20" width="47.10" height="7.70" fill="url(#cb)" stroke="none" stroke-width="1"/>
<text class="lt" x="86.0" y="664.4" font-size="10.5" fill="#222">log<tspan font-size="6.5" dy="2.2">2</tspan></text>
<text x="112.80" y="671.60" font-size="8.5" text-anchor="middle" fill="#333" class="lt">3.0</text>
<text x="160.60" y="671.60" font-size="8.5" text-anchor="middle" fill="#333" class="lt">−3.0</text>
<rect x="367.6" y="236.3" width="169.60000000000002" height="170.39999999999998" fill="none" stroke="#b4b4b4" stroke-width="1.3"/>
<line x1="362.60" y1="406.60" x2="367.60" y2="406.60" stroke="#b4b4b4" stroke-width="1.2" />
<line x1="365.10" y1="392.41" x2="367.60" y2="392.41" stroke="#b4b4b4" stroke-width="1.1" />
<line x1="365.10" y1="378.22" x2="367.60" y2="378.22" stroke="#b4b4b4" stroke-width="1.1" />
<line x1="365.10" y1="364.03" x2="367.60" y2="364.03" stroke="#b4b4b4" stroke-width="1.1" />
<line x1="365.10" y1="349.84" x2="367.60" y2="349.84" stroke="#b4b4b4" stroke-width="1.1" />
<line x1="362.60" y1="335.65" x2="367.60" y2="335.65" stroke="#b4b4b4" stroke-width="1.2" />
<line x1="365.10" y1="321.46" x2="367.60" y2="321.46" stroke="#b4b4b4" stroke-width="1.1" />
<line x1="365.10" y1="307.27" x2="367.60" y2="307.27" stroke="#b4b4b4" stroke-width="1.1" />
<line x1="365.10" y1="293.08" x2="367.60" y2="293.08" stroke="#b4b4b4" stroke-width="1.1" />
<line x1="365.10" y1="278.89" x2="367.60" y2="278.89" stroke="#b4b4b4" stroke-width="1.1" />
<line x1="362.60" y1="264.70" x2="367.60" y2="264.70" stroke="#b4b4b4" stroke-width="1.2" />
<line x1="365.10" y1="250.51" x2="367.60" y2="250.51" stroke="#b4b4b4" stroke-width="1.1" />
<line x1="365.10" y1="236.32" x2="367.60" y2="236.32" stroke="#b4b4b4" stroke-width="1.1" />
<text x="358.90" y="410.20" font-size="10" text-anchor="end" fill="#1e1e1e" >0</text>
<text x="358.90" y="339.25" font-size="10" text-anchor="end" fill="#1e1e1e" >50</text>
<text x="358.90" y="268.30" font-size="10" text-anchor="end" fill="#1e1e1e" >100</text>
<text x="358.90" y="239.92" font-size="10" text-anchor="end" fill="#1e1e1e" >120</text>
<line x1="367.60" y1="406.70" x2="367.60" y2="410.70" stroke="#b4b4b4" stroke-width="1" />
<line x1="376.11" y1="406.70" x2="376.11" y2="408.70" stroke="#b4b4b4" stroke-width="1" />
<line x1="381.09" y1="406.70" x2="381.09" y2="408.70" stroke="#b4b4b4" stroke-width="1" />
<line x1="384.62" y1="406.70" x2="384.62" y2="408.70" stroke="#b4b4b4" stroke-width="1" />
<line x1="387.36" y1="406.70" x2="387.36" y2="408.70" stroke="#b4b4b4" stroke-width="1" />
<line x1="389.60" y1="406.70" x2="389.60" y2="408.70" stroke="#b4b4b4" stroke-width="1" />
<line x1="391.49" y1="406.70" x2="391.49" y2="408.70" stroke="#b4b4b4" stroke-width="1" />
<line x1="393.13" y1="406.70" x2="393.13" y2="408.70" stroke="#b4b4b4" stroke-width="1" />
<line x1="394.58" y1="406.70" x2="394.58" y2="408.70" stroke="#b4b4b4" stroke-width="1" />
<text x="360.30" y="425.90" font-size="10" fill="#1e1e1e">10<tspan font-size="6.5" dy="-4.2">0</tspan></text>
<line x1="395.87" y1="406.70" x2="395.87" y2="410.70" stroke="#b4b4b4" stroke-width="1" />
<line x1="404.38" y1="406.70" x2="404.38" y2="408.70" stroke="#b4b4b4" stroke-width="1" />
<line x1="409.36" y1="406.70" x2="409.36" y2="408.70" stroke="#b4b4b4" stroke-width="1" />
<line x1="412.89" y1="406.70" x2="412.89" y2="408.70" stroke="#b4b4b4" stroke-width="1" />
<line x1="415.63" y1="406.70" x2="415.63" y2="408.70" stroke="#b4b4b4" stroke-width="1" />
<line x1="417.87" y1="406.70" x2="417.87" y2="408.70" stroke="#b4b4b4" stroke-width="1" />
<line x1="419.76" y1="406.70" x2="419.76" y2="408.70" stroke="#b4b4b4" stroke-width="1" />
<line x1="421.40" y1="406.70" x2="421.40" y2="408.70" stroke="#b4b4b4" stroke-width="1" />
<line x1="422.85" y1="406.70" x2="422.85" y2="408.70" stroke="#b4b4b4" stroke-width="1" />
<text x="388.57" y="425.90" font-size="10" fill="#1e1e1e">10<tspan font-size="6.5" dy="-4.2">1</tspan></text>
<line x1="424.14" y1="406.70" x2="424.14" y2="410.70" stroke="#b4b4b4" stroke-width="1" />
<line x1="432.65" y1="406.70" x2="432.65" y2="408.70" stroke="#b4b4b4" stroke-width="1" />
<line x1="437.63" y1="406.70" x2="437.63" y2="408.70" stroke="#b4b4b4" stroke-width="1" />
<line x1="441.16" y1="406.70" x2="441.16" y2="408.70" stroke="#b4b4b4" stroke-width="1" />
<line x1="443.90" y1="406.70" x2="443.90" y2="408.70" stroke="#b4b4b4" stroke-width="1" />
<line x1="446.14" y1="406.70" x2="446.14" y2="408.70" stroke="#b4b4b4" stroke-width="1" />
<line x1="448.03" y1="406.70" x2="448.03" y2="408.70" stroke="#b4b4b4" stroke-width="1" />
<line x1="449.67" y1="406.70" x2="449.67" y2="408.70" stroke="#b4b4b4" stroke-width="1" />
<line x1="451.12" y1="406.70" x2="451.12" y2="408.70" stroke="#b4b4b4" stroke-width="1" />
<text x="416.84" y="425.90" font-size="10" fill="#1e1e1e">10<tspan font-size="6.5" dy="-4.2">2</tspan></text>
<line x1="452.41" y1="406.70" x2="452.41" y2="410.70" stroke="#b4b4b4" stroke-width="1" />
<line x1="460.92" y1="406.70" x2="460.92" y2="408.70" stroke="#b4b4b4" stroke-width="1" />
<line x1="465.90" y1="406.70" x2="465.90" y2="408.70" stroke="#b4b4b4" stroke-width="1" />
<line x1="469.43" y1="406.70" x2="469.43" y2="408.70" stroke="#b4b4b4" stroke-width="1" />
<line x1="472.17" y1="406.70" x2="472.17" y2="408.70" stroke="#b4b4b4" stroke-width="1" />
<line x1="474.41" y1="406.70" x2="474.41" y2="408.70" stroke="#b4b4b4" stroke-width="1" />
<line x1="476.30" y1="406.70" x2="476.30" y2="408.70" stroke="#b4b4b4" stroke-width="1" />
<line x1="477.94" y1="406.70" x2="477.94" y2="408.70" stroke="#b4b4b4" stroke-width="1" />
<line x1="479.39" y1="406.70" x2="479.39" y2="408.70" stroke="#b4b4b4" stroke-width="1" />
<text x="445.11" y="425.90" font-size="10" fill="#1e1e1e">10<tspan font-size="6.5" dy="-4.2">3</tspan></text>
<line x1="480.68" y1="406.70" x2="480.68" y2="410.70" stroke="#b4b4b4" stroke-width="1" />
<line x1="489.19" y1="406.70" x2="489.19" y2="408.70" stroke="#b4b4b4" stroke-width="1" />
<line x1="494.17" y1="406.70" x2="494.17" y2="408.70" stroke="#b4b4b4" stroke-width="1" />
<line x1="497.70" y1="406.70" x2="497.70" y2="408.70" stroke="#b4b4b4" stroke-width="1" />
<line x1="500.44" y1="406.70" x2="500.44" y2="408.70" stroke="#b4b4b4" stroke-width="1" />
<line x1="502.68" y1="406.70" x2="502.68" y2="408.70" stroke="#b4b4b4" stroke-width="1" />
<line x1="504.57" y1="406.70" x2="504.57" y2="408.70" stroke="#b4b4b4" stroke-width="1" />
<line x1="506.21" y1="406.70" x2="506.21" y2="408.70" stroke="#b4b4b4" stroke-width="1" />
<line x1="507.66" y1="406.70" x2="507.66" y2="408.70" stroke="#b4b4b4" stroke-width="1" />
<text x="473.38" y="425.90" font-size="10" fill="#1e1e1e">10<tspan font-size="6.5" dy="-4.2">4</tspan></text>
<line x1="508.95" y1="406.70" x2="508.95" y2="410.70" stroke="#b4b4b4" stroke-width="1" />
<line x1="517.46" y1="406.70" x2="517.46" y2="408.70" stroke="#b4b4b4" stroke-width="1" />
<line x1="522.44" y1="406.70" x2="522.44" y2="408.70" stroke="#b4b4b4" stroke-width="1" />
<line x1="525.97" y1="406.70" x2="525.97" y2="408.70" stroke="#b4b4b4" stroke-width="1" />
<line x1="528.71" y1="406.70" x2="528.71" y2="408.70" stroke="#b4b4b4" stroke-width="1" />
<line x1="530.95" y1="406.70" x2="530.95" y2="408.70" stroke="#b4b4b4" stroke-width="1" />
<line x1="532.84" y1="406.70" x2="532.84" y2="408.70" stroke="#b4b4b4" stroke-width="1" />
<line x1="534.48" y1="406.70" x2="534.48" y2="408.70" stroke="#b4b4b4" stroke-width="1" />
<line x1="535.93" y1="406.70" x2="535.93" y2="408.70" stroke="#b4b4b4" stroke-width="1" />
<text x="501.65" y="425.90" font-size="10" fill="#1e1e1e">10<tspan font-size="6.5" dy="-4.2">5</tspan></text>
<line x1="537.22" y1="406.70" x2="537.22" y2="410.70" stroke="#b4b4b4" stroke-width="1" />
<text x="529.92" y="425.90" font-size="10" fill="#1e1e1e">10<tspan font-size="6.5" dy="-4.2">6</tspan></text>
<polyline points="420.00,406.30 420.25,406.30 420.50,406.30 420.75,406.30 421.00,405.18 421.25,406.30 421.50,406.30 421.75,406.30 422.00,406.30 422.25,406.30 422.50,406.30 422.75,406.30 423.00,406.30 423.25,406.30 423.50,406.30 423.75,406.30 424.00,406.30 424.25,406.30 424.50,406.30 424.75,406.30 425.00,406.30 425.25,406.30 425.50,406.30 425.75,406.30 426.00,406.30 426.25,406.30 426.50,406.30 426.75,406.30 427.00,406.30 427.25,406.30 427.50,406.30 427.75,406.30 428.00,406.30 428.25,406.30 428.50,406.30 428.75,406.30 429.00,406.30 429.25,406.30 429.50,406.30 429.75,406.30 430.00,406.30 430.25,406.30 430.50,406.30 430.75,406.30 431.00,406.30 431.25,406.30 431.50,406.30 431.75,406.30 432.00,406.30 432.25,406.30 432.50,406.30 432.75,405.18 433.00,406.30 433.25,406.30 433.50,406.30 433.75,406.30 434.00,406.30 434.25,405.18 434.50,406.30 434.75,406.30 435.00,406.30 435.25,406.30 435.50,406.30 435.75,405.18 436.00,405.18 436.25,406.30 436.50,406.30 436.75,406.30 437.00,406.30 437.25,406.30 437.50,406.30 437.75,406.30 438.00,406.30 438.25,406.30 438.50,406.30 438.75,406.30 439.00,406.30 439.25,406.30 439.50,406.30 439.75,406.30 440.00,406.30 440.25,406.30 440.50,406.30 440.75,406.30 441.00,406.30 441.25,406.30 441.50,405.18 441.75,406.30 442.00,406.30 442.25,406.30 442.50,406.30 442.75,406.30 443.00,406.30 443.25,406.30 443.50,406.30 443.75,406.30 444.00,405.18 444.25,405.18 444.50,406.30 444.75,406.30 445.00,402.34 445.25,403.76 445.50,402.34 445.75,406.30 446.00,402.34 446.25,403.76 446.50,405.18 446.75,405.18 447.00,403.76 447.25,402.34 447.50,402.34 447.75,399.50 448.00,399.50 448.25,405.18 448.50,403.76 448.75,405.18 449.00,403.76 449.25,400.92 449.50,400.92 449.75,403.76 450.00,405.18 450.25,402.34 450.50,402.34 450.75,396.67 451.00,399.50 451.25,403.76 451.50,400.92 451.75,396.67 452.00,402.34 452.25,390.99 452.50,399.50 452.75,390.99 453.00,393.83 453.25,399.50 453.50,385.31 453.75,396.67 454.00,396.67 454.25,390.99 454.50,388.15 454.75,382.48 455.00,386.73 455.25,385.31 455.50,379.64 455.75,381.06 456.00,372.54 456.25,386.73 456.50,368.29 456.75,378.22 457.00,352.68 457.25,359.77 457.50,365.45 457.75,371.12 458.00,361.19 458.25,365.45 458.50,356.94 458.75,368.29 459.00,361.19 459.25,364.03 459.50,338.49 459.75,356.94 460.00,332.81 460.25,341.33 460.50,311.53 460.75,327.14 461.00,320.04 461.25,304.43 461.50,304.43 461.75,310.11 462.00,268.96 462.25,303.01 462.50,287.40 462.75,312.95 463.00,271.80 463.25,291.66 463.50,294.50 463.75,300.18 464.00,277.47 464.25,294.50 464.50,261.86 464.75,283.15 465.00,250.51 465.25,268.96 465.50,263.28 465.75,298.76 466.00,278.89 466.25,236.80 466.50,277.47 466.75,294.50 467.00,271.80 467.25,300.18 467.50,276.05 467.75,278.89 468.00,253.35 468.25,290.24 468.50,250.51 468.75,298.76 469.00,291.66 469.25,243.42 469.50,260.44 469.75,298.76 470.00,300.18 470.25,293.08 470.50,264.70 470.75,308.69 471.00,295.92 471.25,321.46 471.50,321.46 471.75,318.62 472.00,344.16 472.25,344.16 472.50,335.65 472.75,331.39 473.00,334.23 473.25,339.91 473.50,347.00 473.75,341.33 474.00,341.33 474.25,365.45 474.50,344.16 474.75,376.80 475.00,364.03 475.25,369.71 475.50,351.26 475.75,378.22 476.00,371.12 476.25,379.64 476.50,381.06 476.75,385.31 477.00,383.90 477.25,396.67 477.50,383.90 477.75,388.15 478.00,399.50 478.25,390.99 478.50,398.09 478.75,398.09 479.00,398.09 479.25,398.09 479.50,398.09 479.75,400.92 480.00,402.34 480.25,399.50 480.50,402.34 480.75,398.09 481.00,396.67 481.25,405.18 481.50,402.34 481.75,403.76 482.00,399.50 482.25,403.76 482.50,403.76 482.75,402.34 483.00,396.67 483.25,402.34 483.50,403.76 483.75,400.92 484.00,402.34 484.25,405.18 484.50,406.30 484.75,405.18 485.00,403.76 485.25,406.30 485.50,406.30 485.75,405.18 486.00,405.18 486.25,406.30 486.50,406.30 486.75,405.18 487.00,405.18 487.25,406.30 487.50,406.30 487.75,406.30 488.00,406.30 488.25,406.30 488.50,406.30 488.75,406.30 489.00,405.18 489.25,405.18 489.50,406.30 489.75,406.30 490.00,406.30 490.25,406.30 490.50,406.30 490.75,406.30 491.00,406.30 491.25,405.18 491.50,406.30 491.75,405.18 492.00,406.30 492.25,406.30 492.50,406.30 492.75,406.30 493.00,406.30 493.25,406.30 493.50,406.30 493.75,406.30 494.00,406.30 494.25,406.30 494.50,406.30 494.75,406.30 495.00,406.30 495.25,406.30 495.50,406.30 495.75,406.30 496.00,406.30 496.25,406.30 496.50,405.18 496.75,406.30 497.00,406.30 497.25,406.30 497.50,405.18 497.75,406.30 498.00,406.30 498.25,406.30 498.50,406.30 498.75,406.30 499.00,406.30 499.25,406.30 499.50,406.30 499.75,406.30" fill="none" stroke="#303030" stroke-width="1.05" stroke-linejoin="bevel"/>
<line x1="368.10" y1="405.90" x2="417.00" y2="405.90" stroke="#f26a6a" stroke-width="1.0" />
<polyline points="416.50,406.30 416.75,406.30 417.00,406.30 417.25,406.30 417.50,406.30 417.75,406.30 418.00,405.18 418.25,406.30 418.50,405.18 418.75,406.30 419.00,405.18 419.25,406.30 419.50,406.30 419.75,406.30 420.00,406.30 420.25,406.30 420.50,406.30 420.75,406.30 421.00,406.30 421.25,406.30 421.50,406.30 421.75,406.30 422.00,406.30 422.25,405.18 422.50,405.18 422.75,406.30 423.00,406.30 423.25,406.30 423.50,406.30 423.75,406.30 424.00,405.18 424.25,406.30 424.50,405.18 424.75,406.30 425.00,405.18 425.25,406.30 425.50,405.18 425.75,406.30 426.00,405.18 426.25,402.34 426.50,406.30 426.75,403.76 427.00,406.30 427.25,406.30 427.50,406.30 427.75,406.30 428.00,406.30 428.25,405.18 428.50,406.30 428.75,406.30 429.00,406.30 429.25,406.30 429.50,405.18 429.75,406.30 430.00,402.34 430.25,406.30 430.50,405.18 430.75,403.76 431.00,402.34 431.25,406.30 431.50,406.30 431.75,399.50 432.00,405.18 432.25,405.18 432.50,403.76 432.75,403.76 433.00,403.76 433.25,403.76 433.50,403.76 433.75,406.30 434.00,405.18 434.25,405.18 434.50,399.50 434.75,406.30 435.00,403.76 435.25,402.34 435.50,400.92 435.75,406.30 436.00,402.34 436.25,405.18 436.50,399.50 436.75,399.50 437.00,403.76 437.25,402.34 437.50,398.09 437.75,403.76 438.00,396.67 438.25,400.92 438.50,396.67 438.75,399.50 439.00,399.50 439.25,402.34 439.50,392.41 439.75,399.50 440.00,390.99 440.25,393.83 440.50,376.80 440.75,396.67 441.00,389.57 441.25,393.83 441.50,388.15 441.75,385.31 442.00,390.99 442.25,399.50 442.50,373.96 442.75,392.41 443.00,369.71 443.25,386.73 443.50,372.54 443.75,381.06 444.00,365.45 444.25,382.48 444.50,375.38 444.75,376.80 445.00,358.35 445.25,383.90 445.50,361.19 445.75,368.29 446.00,342.75 446.25,355.52 446.50,339.91 446.75,356.94 447.00,324.30 447.25,356.94 447.50,311.53 447.75,335.65 448.00,305.85 448.25,351.26 448.50,308.69 448.75,332.81 449.00,328.56 449.25,317.20 449.50,321.46 449.75,318.62 450.00,288.82 450.25,351.26 450.50,312.95 450.75,344.16 451.00,322.88 451.25,332.81 451.50,293.08 451.75,342.75 452.00,291.66 452.25,325.72 452.50,280.31 452.75,327.14 453.00,305.85 453.25,273.21 453.50,298.76 453.75,337.07 454.00,297.34 454.25,327.14 454.50,297.34 454.75,342.75 455.00,308.69 455.25,314.37 455.50,308.69 455.75,291.66 456.00,312.95 456.25,322.88 456.50,325.72 456.75,315.78 457.00,295.92 457.25,345.58 457.50,312.95 457.75,277.47 458.00,320.04 458.25,312.95 458.50,324.30 458.75,332.81 459.00,301.59 459.25,315.78 459.50,311.53 459.75,348.42 460.00,317.20 460.25,339.91 460.50,329.97 460.75,332.81 461.00,305.85 461.25,345.58 461.50,342.75 461.75,337.07 462.00,339.91 462.25,339.91 462.50,349.84 462.75,369.71 463.00,341.33 463.25,379.64 463.50,348.42 463.75,362.61 464.00,351.26 464.25,372.54 464.50,364.03 464.75,375.38 465.00,345.58 465.25,373.96 465.50,361.19 465.75,375.38 466.00,362.61 466.25,381.06 466.50,375.38 466.75,381.06 467.00,376.80 467.25,375.38 467.50,379.64 467.75,389.57 468.00,371.12 468.25,398.09 468.50,378.22 468.75,393.83 469.00,389.57 469.25,395.25 469.50,381.06 469.75,393.83 470.00,399.50 470.25,396.67 470.50,388.15 470.75,400.92 471.00,392.41 471.25,398.09 471.50,390.99 471.75,399.50 472.00,393.83 472.25,390.99 472.50,395.25 472.75,400.92 473.00,393.83 473.25,402.34 473.50,399.50 473.75,402.34 474.00,396.67 474.25,402.34 474.50,396.67 474.75,402.34 475.00,399.50 475.25,405.18 475.50,403.76 475.75,406.30 476.00,402.34 476.25,403.76 476.50,405.18 476.75,406.30 477.00,403.76 477.25,402.34 477.50,403.76 477.75,405.18 478.00,405.18 478.25,405.18 478.50,405.18 478.75,403.76 479.00,405.18 479.25,406.30 479.50,406.30 479.75,406.30 480.00,405.18 480.25,406.30 480.50,406.30 480.75,405.18 481.00,405.18 481.25,405.18 481.50,405.18 481.75,406.30 482.00,403.76 482.25,405.18 482.50,406.30 482.75,403.76 483.00,406.30 483.25,406.30 483.50,406.30 483.75,406.30 484.00,406.30 484.25,406.30 484.50,406.30 484.75,405.18 485.00,406.30 485.25,406.30 485.50,406.30 485.75,406.30 486.00,406.30 486.25,406.30 486.50,406.30 486.75,406.30 487.00,406.30 487.25,406.30 487.50,406.30 487.75,405.18 488.00,405.18 488.25,406.30 488.50,406.30 488.75,406.30 489.00,406.30 489.25,406.30 489.50,406.30 489.75,406.30 490.00,406.30 490.25,406.30 490.50,406.30 490.75,406.30 491.00,406.30 491.25,406.30 491.50,405.18 491.75,406.30" fill="none" stroke="#ff0000" stroke-width="1.05" stroke-linejoin="bevel"/>
<line x1="378.90" y1="247.70" x2="389.10" y2="247.70" stroke="#333" stroke-width="1.6" />
<text x="391.80" y="251.30" font-size="10.5" text-anchor="start" fill="#1e1e1e" >Control</text>
<line x1="378.90" y1="262.40" x2="389.10" y2="262.40" stroke="#ff0000" stroke-width="1.6" />
<text x="391.80" y="265.50" font-size="10.5" text-anchor="start" fill="#1e1e1e" >TET1</text>
<text x="377.50" y="287.40" font-size="12.4" text-anchor="start" fill="#1e1e1e" >0.47-fold</text>
<text x="452.50" y="444.50" font-size="12.3" text-anchor="middle" fill="#1e1e1e" >CellROx Green</text>
<text transform="translate(321.30,320.60) rotate(-90)" font-size="12.5" text-anchor="middle" fill="#1e1e1e" >Intracellular ROS level</text>
<text transform="translate(335.60,320.50) rotate(-90)" font-size="12.5" text-anchor="middle" fill="#1e1e1e" >(Count)</text>
<rect x="367.4" y="471.7" width="169.0" height="170.00000000000006" fill="none" stroke="#b4b4b4" stroke-width="1.3"/>
<line x1="362.40" y1="641.60" x2="367.40" y2="641.60" stroke="#b4b4b4" stroke-width="1.2" />
<line x1="364.90" y1="630.12" x2="367.40" y2="630.12" stroke="#b4b4b4" stroke-width="1.1" />
<line x1="364.90" y1="618.64" x2="367.40" y2="618.64" stroke="#b4b4b4" stroke-width="1.1" />
<line x1="364.90" y1="607.16" x2="367.40" y2="607.16" stroke="#b4b4b4" stroke-width="1.1" />
<line x1="364.90" y1="595.68" x2="367.40" y2="595.68" stroke="#b4b4b4" stroke-width="1.1" />
<line x1="362.40" y1="584.20" x2="367.40" y2="584.20" stroke="#b4b4b4" stroke-width="1.2" />
<line x1="364.90" y1="572.72" x2="367.40" y2="572.72" stroke="#b4b4b4" stroke-width="1.1" />
<line x1="364.90" y1="561.24" x2="367.40" y2="561.24" stroke="#b4b4b4" stroke-width="1.1" />
<line x1="364.90" y1="549.76" x2="367.40" y2="549.76" stroke="#b4b4b4" stroke-width="1.1" />
<line x1="364.90" y1="538.28" x2="367.40" y2="538.28" stroke="#b4b4b4" stroke-width="1.1" />
<line x1="362.40" y1="526.80" x2="367.40" y2="526.80" stroke="#b4b4b4" stroke-width="1.2" />
<line x1="364.90" y1="515.32" x2="367.40" y2="515.32" stroke="#b4b4b4" stroke-width="1.1" />
<line x1="364.90" y1="503.84" x2="367.40" y2="503.84" stroke="#b4b4b4" stroke-width="1.1" />
<line x1="364.90" y1="492.36" x2="367.40" y2="492.36" stroke="#b4b4b4" stroke-width="1.1" />
<line x1="364.90" y1="480.88" x2="367.40" y2="480.88" stroke="#b4b4b4" stroke-width="1.1" />
<text x="360.10" y="645.20" font-size="10" text-anchor="end" fill="#1e1e1e" >0</text>
<text x="360.10" y="587.80" font-size="10" text-anchor="end" fill="#1e1e1e" >50</text>
<text x="360.10" y="530.40" font-size="10" text-anchor="end" fill="#1e1e1e" >100</text>
<text x="360.10" y="475.30" font-size="10" text-anchor="end" fill="#1e1e1e" >148</text>
<line x1="367.40" y1="641.70" x2="367.40" y2="645.70" stroke="#b4b4b4" stroke-width="1" />
<line x1="375.88" y1="641.70" x2="375.88" y2="643.70" stroke="#b4b4b4" stroke-width="1" />
<line x1="380.84" y1="641.70" x2="380.84" y2="643.70" stroke="#b4b4b4" stroke-width="1" />
<line x1="384.36" y1="641.70" x2="384.36" y2="643.70" stroke="#b4b4b4" stroke-width="1" />
<line x1="387.09" y1="641.70" x2="387.09" y2="643.70" stroke="#b4b4b4" stroke-width="1" />
<line x1="389.32" y1="641.70" x2="389.32" y2="643.70" stroke="#b4b4b4" stroke-width="1" />
<line x1="391.21" y1="641.70" x2="391.21" y2="643.70" stroke="#b4b4b4" stroke-width="1" />
<line x1="392.84" y1="641.70" x2="392.84" y2="643.70" stroke="#b4b4b4" stroke-width="1" />
<line x1="394.28" y1="641.70" x2="394.28" y2="643.70" stroke="#b4b4b4" stroke-width="1" />
<text x="360.10" y="660.90" font-size="10" fill="#1e1e1e">10<tspan font-size="6.5" dy="-4.2">0</tspan></text>
<line x1="395.57" y1="641.70" x2="395.57" y2="645.70" stroke="#b4b4b4" stroke-width="1" />
<line x1="404.05" y1="641.70" x2="404.05" y2="643.70" stroke="#b4b4b4" stroke-width="1" />
<line x1="409.01" y1="641.70" x2="409.01" y2="643.70" stroke="#b4b4b4" stroke-width="1" />
<line x1="412.53" y1="641.70" x2="412.53" y2="643.70" stroke="#b4b4b4" stroke-width="1" />
<line x1="415.26" y1="641.70" x2="415.26" y2="643.70" stroke="#b4b4b4" stroke-width="1" />
<line x1="417.49" y1="641.70" x2="417.49" y2="643.70" stroke="#b4b4b4" stroke-width="1" />
<line x1="419.38" y1="641.70" x2="419.38" y2="643.70" stroke="#b4b4b4" stroke-width="1" />
<line x1="421.01" y1="641.70" x2="421.01" y2="643.70" stroke="#b4b4b4" stroke-width="1" />
<line x1="422.45" y1="641.70" x2="422.45" y2="643.70" stroke="#b4b4b4" stroke-width="1" />
<text x="388.27" y="660.90" font-size="10" fill="#1e1e1e">10<tspan font-size="6.5" dy="-4.2">1</tspan></text>
<line x1="423.74" y1="641.70" x2="423.74" y2="645.70" stroke="#b4b4b4" stroke-width="1" />
<line x1="432.22" y1="641.70" x2="432.22" y2="643.70" stroke="#b4b4b4" stroke-width="1" />
<line x1="437.18" y1="641.70" x2="437.18" y2="643.70" stroke="#b4b4b4" stroke-width="1" />
<line x1="440.70" y1="641.70" x2="440.70" y2="643.70" stroke="#b4b4b4" stroke-width="1" />
<line x1="443.43" y1="641.70" x2="443.43" y2="643.70" stroke="#b4b4b4" stroke-width="1" />
<line x1="445.66" y1="641.70" x2="445.66" y2="643.70" stroke="#b4b4b4" stroke-width="1" />
<line x1="447.55" y1="641.70" x2="447.55" y2="643.70" stroke="#b4b4b4" stroke-width="1" />
<line x1="449.18" y1="641.70" x2="449.18" y2="643.70" stroke="#b4b4b4" stroke-width="1" />
<line x1="450.62" y1="641.70" x2="450.62" y2="643.70" stroke="#b4b4b4" stroke-width="1" />
<text x="416.44" y="660.90" font-size="10" fill="#1e1e1e">10<tspan font-size="6.5" dy="-4.2">2</tspan></text>
<line x1="451.91" y1="641.70" x2="451.91" y2="645.70" stroke="#b4b4b4" stroke-width="1" />
<line x1="460.39" y1="641.70" x2="460.39" y2="643.70" stroke="#b4b4b4" stroke-width="1" />
<line x1="465.35" y1="641.70" x2="465.35" y2="643.70" stroke="#b4b4b4" stroke-width="1" />
<line x1="468.87" y1="641.70" x2="468.87" y2="643.70" stroke="#b4b4b4" stroke-width="1" />
<line x1="471.60" y1="641.70" x2="471.60" y2="643.70" stroke="#b4b4b4" stroke-width="1" />
<line x1="473.83" y1="641.70" x2="473.83" y2="643.70" stroke="#b4b4b4" stroke-width="1" />
<line x1="475.72" y1="641.70" x2="475.72" y2="643.70" stroke="#b4b4b4" stroke-width="1" />
<line x1="477.35" y1="641.70" x2="477.35" y2="643.70" stroke="#b4b4b4" stroke-width="1" />
<line x1="478.79" y1="641.70" x2="478.79" y2="643.70" stroke="#b4b4b4" stroke-width="1" />
<text x="444.61" y="660.90" font-size="10" fill="#1e1e1e">10<tspan font-size="6.5" dy="-4.2">3</tspan></text>
<line x1="480.08" y1="641.70" x2="480.08" y2="645.70" stroke="#b4b4b4" stroke-width="1" />
<line x1="488.56" y1="641.70" x2="488.56" y2="643.70" stroke="#b4b4b4" stroke-width="1" />
<line x1="493.52" y1="641.70" x2="493.52" y2="643.70" stroke="#b4b4b4" stroke-width="1" />
<line x1="497.04" y1="641.70" x2="497.04" y2="643.70" stroke="#b4b4b4" stroke-width="1" />
<line x1="499.77" y1="641.70" x2="499.77" y2="643.70" stroke="#b4b4b4" stroke-width="1" />
<line x1="502.00" y1="641.70" x2="502.00" y2="643.70" stroke="#b4b4b4" stroke-width="1" />
<line x1="503.89" y1="641.70" x2="503.89" y2="643.70" stroke="#b4b4b4" stroke-width="1" />
<line x1="505.52" y1="641.70" x2="505.52" y2="643.70" stroke="#b4b4b4" stroke-width="1" />
<line x1="506.96" y1="641.70" x2="506.96" y2="643.70" stroke="#b4b4b4" stroke-width="1" />
<text x="472.78" y="660.90" font-size="10" fill="#1e1e1e">10<tspan font-size="6.5" dy="-4.2">4</tspan></text>
<line x1="508.25" y1="641.70" x2="508.25" y2="645.70" stroke="#b4b4b4" stroke-width="1" />
<line x1="516.73" y1="641.70" x2="516.73" y2="643.70" stroke="#b4b4b4" stroke-width="1" />
<line x1="521.69" y1="641.70" x2="521.69" y2="643.70" stroke="#b4b4b4" stroke-width="1" />
<line x1="525.21" y1="641.70" x2="525.21" y2="643.70" stroke="#b4b4b4" stroke-width="1" />
<line x1="527.94" y1="641.70" x2="527.94" y2="643.70" stroke="#b4b4b4" stroke-width="1" />
<line x1="530.17" y1="641.70" x2="530.17" y2="643.70" stroke="#b4b4b4" stroke-width="1" />
<line x1="532.06" y1="641.70" x2="532.06" y2="643.70" stroke="#b4b4b4" stroke-width="1" />
<line x1="533.69" y1="641.70" x2="533.69" y2="643.70" stroke="#b4b4b4" stroke-width="1" />
<line x1="535.13" y1="641.70" x2="535.13" y2="643.70" stroke="#b4b4b4" stroke-width="1" />
<text x="500.95" y="660.90" font-size="10" fill="#1e1e1e">10<tspan font-size="6.5" dy="-4.2">5</tspan></text>
<line x1="536.42" y1="641.70" x2="536.42" y2="645.70" stroke="#b4b4b4" stroke-width="1" />
<text x="529.12" y="660.90" font-size="10" fill="#1e1e1e">10<tspan font-size="6.5" dy="-4.2">6</tspan></text>
<polyline points="428.00,641.30 428.25,641.30 428.50,641.30 428.75,641.30 429.00,641.30 429.25,641.30 429.50,641.30 429.75,641.30 430.00,641.30 430.25,641.30 430.50,641.30 430.75,641.30 431.00,641.30 431.25,641.30 431.50,641.30 431.75,641.30 432.00,640.45 432.25,641.30 432.50,640.45 432.75,640.45 433.00,641.30 433.25,641.30 433.50,640.45 433.75,640.45 434.00,640.45 434.25,641.30 434.50,641.30 434.75,640.45 435.00,640.45 435.25,639.30 435.50,641.30 435.75,638.16 436.00,640.45 436.25,641.30 436.50,640.45 436.75,640.45 437.00,641.30 437.25,641.30 437.50,640.45 437.75,637.01 438.00,641.30 438.25,640.45 438.50,641.30 438.75,634.71 439.00,640.45 439.25,639.30 439.50,638.16 439.75,634.71 440.00,639.30 440.25,639.30 440.50,635.86 440.75,638.16 441.00,635.86 441.25,638.16 441.50,633.56 441.75,637.01 442.00,638.16 442.25,630.12 442.50,627.82 442.75,631.27 443.00,623.23 443.25,617.49 443.50,628.97 443.75,627.82 444.00,627.82 444.25,625.53 444.50,619.79 444.75,630.12 445.00,602.57 445.25,624.38 445.50,615.20 445.75,607.16 446.00,611.75 446.25,604.86 446.50,610.60 446.75,595.68 447.00,593.38 447.25,593.38 447.50,594.53 447.75,572.72 448.00,564.68 448.25,555.50 448.50,561.24 448.75,566.98 449.00,554.35 449.25,531.39 449.50,540.58 449.75,539.43 450.00,546.32 450.25,529.10 450.50,510.73 450.75,534.84 451.00,526.80 451.25,524.50 451.50,523.36 451.75,504.99 452.00,510.73 452.25,482.03 452.50,495.80 452.75,503.84 453.00,501.54 453.25,517.62 453.50,493.51 453.75,494.66 454.00,490.06 454.25,482.03 454.50,472.84 454.75,472.20 455.00,509.58 455.25,494.66 455.50,478.58 455.75,482.03 456.00,486.62 456.25,496.95 456.50,502.69 456.75,504.99 457.00,498.10 457.25,504.99 457.50,508.43 457.75,511.88 458.00,498.10 458.25,514.17 458.50,515.32 458.75,515.32 459.00,525.65 459.25,535.98 459.50,540.58 459.75,517.62 460.00,531.39 460.25,535.98 460.50,558.94 460.75,575.02 461.00,555.50 461.25,558.94 461.50,583.05 461.75,584.20 462.00,581.90 462.25,584.20 462.50,594.53 462.75,592.24 463.00,589.94 463.25,604.86 463.50,597.98 463.75,611.75 464.00,614.05 464.25,625.53 464.50,616.34 464.75,623.23 465.00,619.79 465.25,624.38 465.50,623.23 465.75,620.94 466.00,618.64 466.25,628.97 466.50,625.53 466.75,630.12 467.00,627.82 467.25,632.42 467.50,619.79 467.75,626.68 468.00,630.12 468.25,628.97 468.50,626.68 468.75,632.42 469.00,628.97 469.25,632.42 469.50,638.16 469.75,635.86 470.00,633.56 470.25,631.27 470.50,633.56 470.75,638.16 471.00,628.97 471.25,632.42 471.50,630.12 471.75,634.71 472.00,626.68 472.25,632.42 472.50,635.86 472.75,632.42 473.00,631.27 473.25,638.16 473.50,633.56 473.75,637.01 474.00,639.30 474.25,637.01 474.50,634.71 474.75,637.01 475.00,633.56 475.25,633.56 475.50,637.01 475.75,638.16 476.00,637.01 476.25,637.01 476.50,631.27 476.75,634.71 477.00,635.86 477.25,633.56 477.50,639.30 477.75,635.86 478.00,635.86 478.25,635.86 478.50,634.71 478.75,635.86 479.00,639.30 479.25,637.01 479.50,634.71 479.75,638.16 480.00,635.86 480.25,637.01 480.50,633.56 480.75,638.16 481.00,637.01 481.25,639.30 481.50,637.01 481.75,637.01 482.00,635.86 482.25,638.16 482.50,634.71 482.75,637.01 483.00,638.16 483.25,637.01 483.50,635.86 483.75,639.30 484.00,637.01 484.25,633.56 484.50,639.30 484.75,639.30 485.00,639.30 485.25,637.01 485.50,641.30 485.75,639.30 486.00,639.30 486.25,639.30 486.50,639.30 486.75,640.45 487.00,637.01 487.25,634.71 487.50,639.30 487.75,640.45 488.00,638.16 488.25,639.30 488.50,639.30 488.75,640.45 489.00,639.30 489.25,635.86 489.50,639.30 489.75,641.30 490.00,637.01 490.25,640.45 490.50,641.30 490.75,641.30 491.00,640.45 491.25,641.30 491.50,638.16 491.75,640.45 492.00,641.30 492.25,641.30 492.50,641.30 492.75,641.30 493.00,641.30 493.25,640.45 493.50,641.30 493.75,640.45 494.00,641.30 494.25,641.30 494.50,640.45 494.75,641.30 495.00,641.30 495.25,640.45 495.50,640.45 495.75,641.30 496.00,641.30 496.25,641.30 496.50,641.30 496.75,640.45 497.00,641.30 497.25,640.45 497.50,641.30 497.75,641.30 498.00,640.45 498.25,641.30 498.50,640.45 498.75,641.30 499.00,641.30 499.25,641.30 499.50,640.45 499.75,640.45 500.00,641.30 500.25,641.30 500.50,641.30 500.75,639.30 501.00,640.45 501.25,641.30 501.50,641.30 501.75,641.30 502.00,639.30 502.25,641.30 502.50,641.30 502.75,641.30 503.00,640.45 503.25,640.45 503.50,640.45 503.75,640.45 504.00,641.30 504.25,641.30 504.50,641.30 504.75,641.30 505.00,639.30 505.25,641.30 505.50,641.30 505.75,640.45 506.00,641.30 506.25,640.45 506.50,641.30 506.75,641.30 507.00,641.30 507.25,641.30 507.50,641.30 507.75,640.45 508.00,638.16 508.25,640.45 508.50,641.30 508.75,640.45 509.00,641.30 509.25,641.30 509.50,641.30 509.75,641.30 510.00,641.30 510.25,641.30 510.50,641.30 510.75,641.30 511.00,641.30 511.25,641.30 511.50,641.30 511.75,641.30 512.00,641.30 512.25,640.45 512.50,641.30 512.75,641.30 513.00,641.30 513.25,641.30 513.50,641.30 513.75,641.30" fill="none" stroke="#303030" stroke-width="1.05" stroke-linejoin="bevel"/>
<polyline points="367.9,641.1 375.4,641.1 375.9,639.6 376.4,641.1 395.8,641.1 396.3,639.9 396.8,641.1 404.5,641.1" fill="none" stroke="#f26a6a" stroke-width="1"/>
<polyline points="404.00,640.45 404.25,641.30 404.50,641.30 404.75,641.30 405.00,641.30 405.25,641.30 405.50,641.30 405.75,640.45 406.00,641.30 406.25,640.45 406.50,641.30 406.75,641.30 407.00,641.30 407.25,640.45 407.50,638.16 407.75,641.30 408.00,641.30 408.25,641.30 408.50,641.30 408.75,639.30 409.00,640.45 409.25,638.16 409.50,639.30 409.75,641.30 410.00,641.30 410.25,640.45 410.50,640.45 410.75,639.30 411.00,641.30 411.25,640.45 411.50,640.45 411.75,641.30 412.00,637.01 412.25,639.30 412.50,641.30 412.75,641.30 413.00,641.30 413.25,641.30 413.50,639.30 413.75,640.45 414.00,638.16 414.25,639.30 414.50,640.45 414.75,640.45 415.00,639.30 415.25,640.45 415.50,640.45 415.75,641.30 416.00,637.01 416.25,641.30 416.50,638.16 416.75,640.45 417.00,640.45 417.25,638.16 417.50,635.86 417.75,639.30 418.00,639.30 418.25,637.01 418.50,640.45 418.75,641.30 419.00,638.16 419.25,635.86 419.50,634.71 419.75,638.16 420.00,637.01 420.25,634.71 420.50,634.71 420.75,639.30 421.00,637.01 421.25,634.71 421.50,637.01 421.75,637.01 422.00,632.42 422.25,633.56 422.50,637.01 422.75,630.12 423.00,633.56 423.25,632.42 423.50,637.01 423.75,637.01 424.00,627.82 424.25,633.56 424.50,635.86 424.75,633.56 425.00,628.97 425.25,633.56 425.50,625.53 425.75,631.27 426.00,626.68 426.25,627.82 426.50,630.12 426.75,624.38 427.00,623.23 427.25,627.82 427.50,630.12 427.75,630.12 428.00,619.79 428.25,628.97 428.50,626.68 428.75,623.23 429.00,623.23 429.25,620.94 429.50,604.86 429.75,610.60 430.00,615.20 430.25,620.94 430.50,609.46 430.75,616.34 431.00,616.34 431.25,617.49 431.50,606.01 431.75,611.75 432.00,609.46 432.25,599.12 432.50,588.79 432.75,601.42 433.00,593.38 433.25,588.79 433.50,584.20 433.75,596.83 434.00,576.16 434.25,597.98 434.50,571.57 434.75,576.16 435.00,568.13 435.25,576.16 435.50,576.16 435.75,565.83 436.00,565.83 436.25,555.50 436.50,542.87 436.75,547.46 437.00,532.54 437.25,568.13 437.50,529.10 437.75,553.20 438.00,539.43 438.25,542.87 438.50,515.32 438.75,523.36 439.00,521.06 439.25,546.32 439.50,542.87 439.75,544.02 440.00,493.51 440.25,549.76 440.50,506.14 440.75,540.58 441.00,486.62 441.25,534.84 441.50,515.32 441.75,506.14 442.00,478.58 442.25,519.91 442.50,495.80 442.75,476.29 443.00,501.54 443.25,493.51 443.50,511.88 443.75,519.91 444.00,516.47 444.25,524.50 444.50,516.47 444.75,513.02 445.00,507.28 445.25,527.95 445.50,533.69 445.75,539.43 446.00,541.72 446.25,533.69 446.50,558.94 446.75,579.61 447.00,546.32 447.25,550.91 447.50,548.61 447.75,576.16 448.00,558.94 448.25,578.46 448.50,573.87 448.75,571.57 449.00,592.24 449.25,595.68 449.50,575.02 449.75,603.72 450.00,586.50 450.25,591.09 450.50,587.64 450.75,596.83 451.00,594.53 451.25,608.31 451.50,591.09 451.75,596.83 452.00,580.76 452.25,599.12 452.50,608.31 452.75,606.01 453.00,604.86 453.25,609.46 453.50,602.57 453.75,602.57 454.00,609.46 454.25,600.27 454.50,609.46 454.75,610.60 455.00,616.34 455.25,620.94 455.50,615.20 455.75,619.79 456.00,616.34 456.25,612.90 456.50,610.60 456.75,625.53 457.00,607.16 457.25,622.08 457.50,626.68 457.75,624.38 458.00,625.53 458.25,617.49 458.50,619.79 458.75,623.23 459.00,624.38 459.25,615.20 459.50,619.79 459.75,622.08 460.00,617.49 460.25,619.79 460.50,619.79 460.75,625.53 461.00,617.49 461.25,631.27 461.50,618.64 461.75,623.23 462.00,620.94 462.25,626.68 462.50,627.82 462.75,627.82 463.00,632.42 463.25,630.12 463.50,627.82 463.75,628.97 464.00,623.23 464.25,628.97 464.50,627.82 464.75,633.56 465.00,632.42 465.25,628.97 465.50,635.86 465.75,632.42 466.00,631.27 466.25,637.01 466.50,628.97 466.75,630.12 467.00,635.86 467.25,633.56 467.50,632.42 467.75,633.56 468.00,637.01 468.25,635.86 468.50,630.12 468.75,638.16 469.00,634.71 469.25,631.27 469.50,633.56 469.75,634.71 470.00,634.71 470.25,638.16 470.50,637.01 470.75,640.45 471.00,633.56 471.25,639.30 471.50,632.42 471.75,632.42 472.00,633.56 472.25,637.01 472.50,630.12 472.75,638.16 473.00,635.86 473.25,637.01 473.50,635.86 473.75,638.16 474.00,634.71 474.25,634.71 474.50,635.86 474.75,633.56 475.00,635.86 475.25,638.16 475.50,633.56 475.75,640.45 476.00,634.71 476.25,635.86 476.50,639.30 476.75,640.45 477.00,638.16 477.25,635.86 477.50,640.45 477.75,641.30 478.00,637.01 478.25,637.01 478.50,639.30 478.75,634.71 479.00,639.30 479.25,639.30 479.50,638.16 479.75,638.16 480.00,635.86 480.25,640.45 480.50,639.30 480.75,640.45 481.00,637.01 481.25,639.30 481.50,641.30 481.75,640.45 482.00,638.16 482.25,639.30 482.50,637.01 482.75,639.30 483.00,637.01 483.25,637.01 483.50,637.01 483.75,639.30 484.00,641.30 484.25,639.30 484.50,641.30 484.75,635.86 485.00,639.30 485.25,641.30 485.50,638.16 485.75,640.45 486.00,641.30 486.25,641.30 486.50,639.30 486.75,641.30 487.00,640.45 487.25,641.30 487.50,640.45 487.75,639.30 488.00,639.30 488.25,641.30 488.50,640.45 488.75,641.30 489.00,641.30 489.25,641.30 489.50,641.30 489.75,641.30 490.00,641.30 490.25,640.45 490.50,640.45 490.75,641.30 491.00,640.45 491.25,640.45 491.50,640.45 491.75,641.30 492.00,641.30 492.25,641.30 492.50,641.30 492.75,641.30 493.00,641.30 493.25,641.30 493.50,641.30 493.75,641.30" fill="none" stroke="#ff0000" stroke-width="1.05" stroke-linejoin="bevel"/>
<line x1="378.90" y1="482.70" x2="389.10" y2="482.70" stroke="#333" stroke-width="1.6" />
<text x="391.80" y="486.30" font-size="10.5" text-anchor="start" fill="#1e1e1e" >Control</text>
<line x1="378.90" y1="497.40" x2="389.10" y2="497.40" stroke="#ff0000" stroke-width="1.6" />
<text x="391.80" y="500.50" font-size="10.5" text-anchor="start" fill="#1e1e1e" >TET1</text>
<text x="377.50" y="522.40" font-size="12.4" text-anchor="start" fill="#1e1e1e" >0.37-fold</text>
<text x="452.10" y="680.40" font-size="12.6" text-anchor="middle" fill="#1e1e1e" >MitoSOX Red</text>
<text transform="translate(321.30,557.30) rotate(-90)" font-size="12.4" text-anchor="middle" fill="#1e1e1e" >Mitochondrial superoxide anion</text>
<text transform="translate(336.00,557.50) rotate(-90)" font-size="12.5" text-anchor="middle" fill="#1e1e1e" >(Count)</text>
</svg></body></html>
